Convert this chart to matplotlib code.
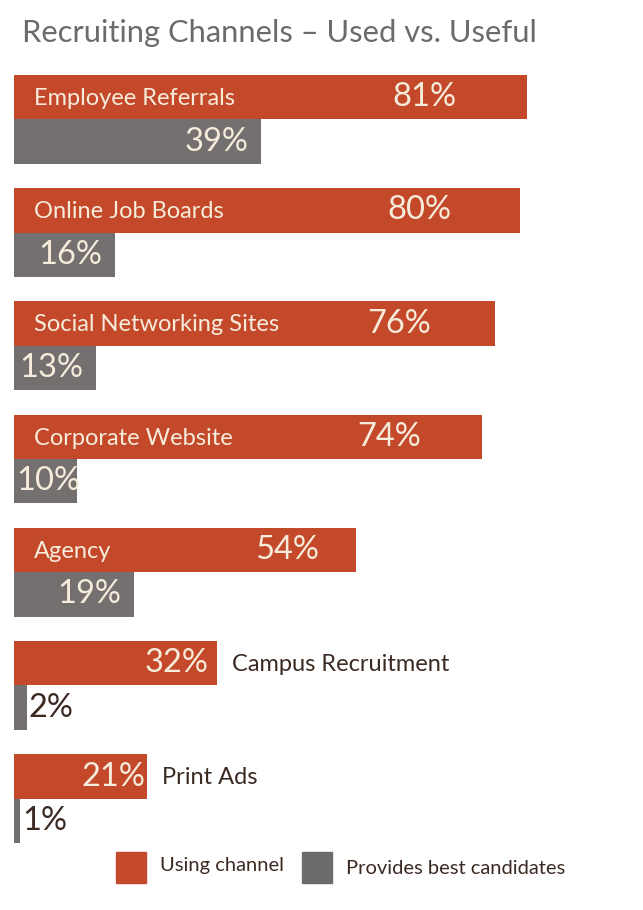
import matplotlib.pyplot as plt
from matplotlib.patches import Rectangle

plt.rcParams['font.family'] = ['Lato', 'DejaVu Sans']

channels = ["Employee Referrals", "Online Job Boards", "Social Networking Sites",
            "Corporate Website", "Agency", "Campus Recruitment", "Print Ads"]
using = [81, 80, 76, 74, 54, 32, 21]
best = [39, 16, 13, 10, 19, 2, 1]

orange = "#c4492a"
grey = "#747070"
cream = "#f6ecdc"
dark = "#3b2a22"

W, H = 643, 910
fig = plt.figure(figsize=(W / 100, H / 100), dpi=100)
ax = fig.add_axes([14 / W, 0, 1 - 14 / W, 1])

px_per_pct = 6.33
px_per_unit = 44.4
gap = 2.55
top = 0.5 + 75 / px_per_unit
ax.set_xlim(0, (W - 14) / px_per_pct)
ax.set_ylim(top - H / px_per_unit, top)
ax.axis("off")

for i, (name, u, b) in enumerate(zip(channels, using, best)):
    y0 = -gap * i
    y1 = y0 - 1
    ax.barh(y0, u, height=1, color=orange, left=0)
    ax.barh(y1, b, height=1, color=grey, left=0)

    if u > 50:
        ax.text(3.2, y0 - 0.03, name, color=cream, fontsize=17, va="center", ha="left")
    else:
        ax.text(u + 2.4, y0 - 0.03, name, color=dark, fontsize=17, va="center", ha="left")
    ax.text(min(u * 0.8, u - 5.3), y0, f"{u}%", color=cream, fontsize=23.5,
            va="center", ha="center")

    if b >= 12:
        ax.text(b - 2, y1, f"{b}%", color=cream, fontsize=23.5, va="center", ha="right")
    elif b >= 5:
        ax.text(0.4, y1, f"{b}%", color=cream, fontsize=23.5, va="center", ha="left")
    else:
        ax.text(b + 0.3, y1, f"{b}%", color=dark, fontsize=23.5, va="center", ha="left")

fig.text(22 / W, 1 - 33 / H, "Recruiting Channels \u2013 Used vs. Useful", color="#6d6a6a",
         fontsize=22.2, va="center", ha="left")

# legend
fig.patches.append(Rectangle((116 / W, 1 - 883 / H), 30 / W, 31 / H,
                             transform=fig.transFigure, color=orange))
fig.patches.append(Rectangle((302 / W, 1 - 883 / H), 30 / W, 31 / H,
                             transform=fig.transFigure, color="#6b6b6b"))
fig.text(160 / W, 1 - 866 / H, "Using channel", color=dark, fontsize=14.5, va="center")
fig.text(346 / W, 1 - 868 / H, "Provides best candidates", color=dark, fontsize=14.5, va="center")

fig.savefig("out.png", dpi=100)
